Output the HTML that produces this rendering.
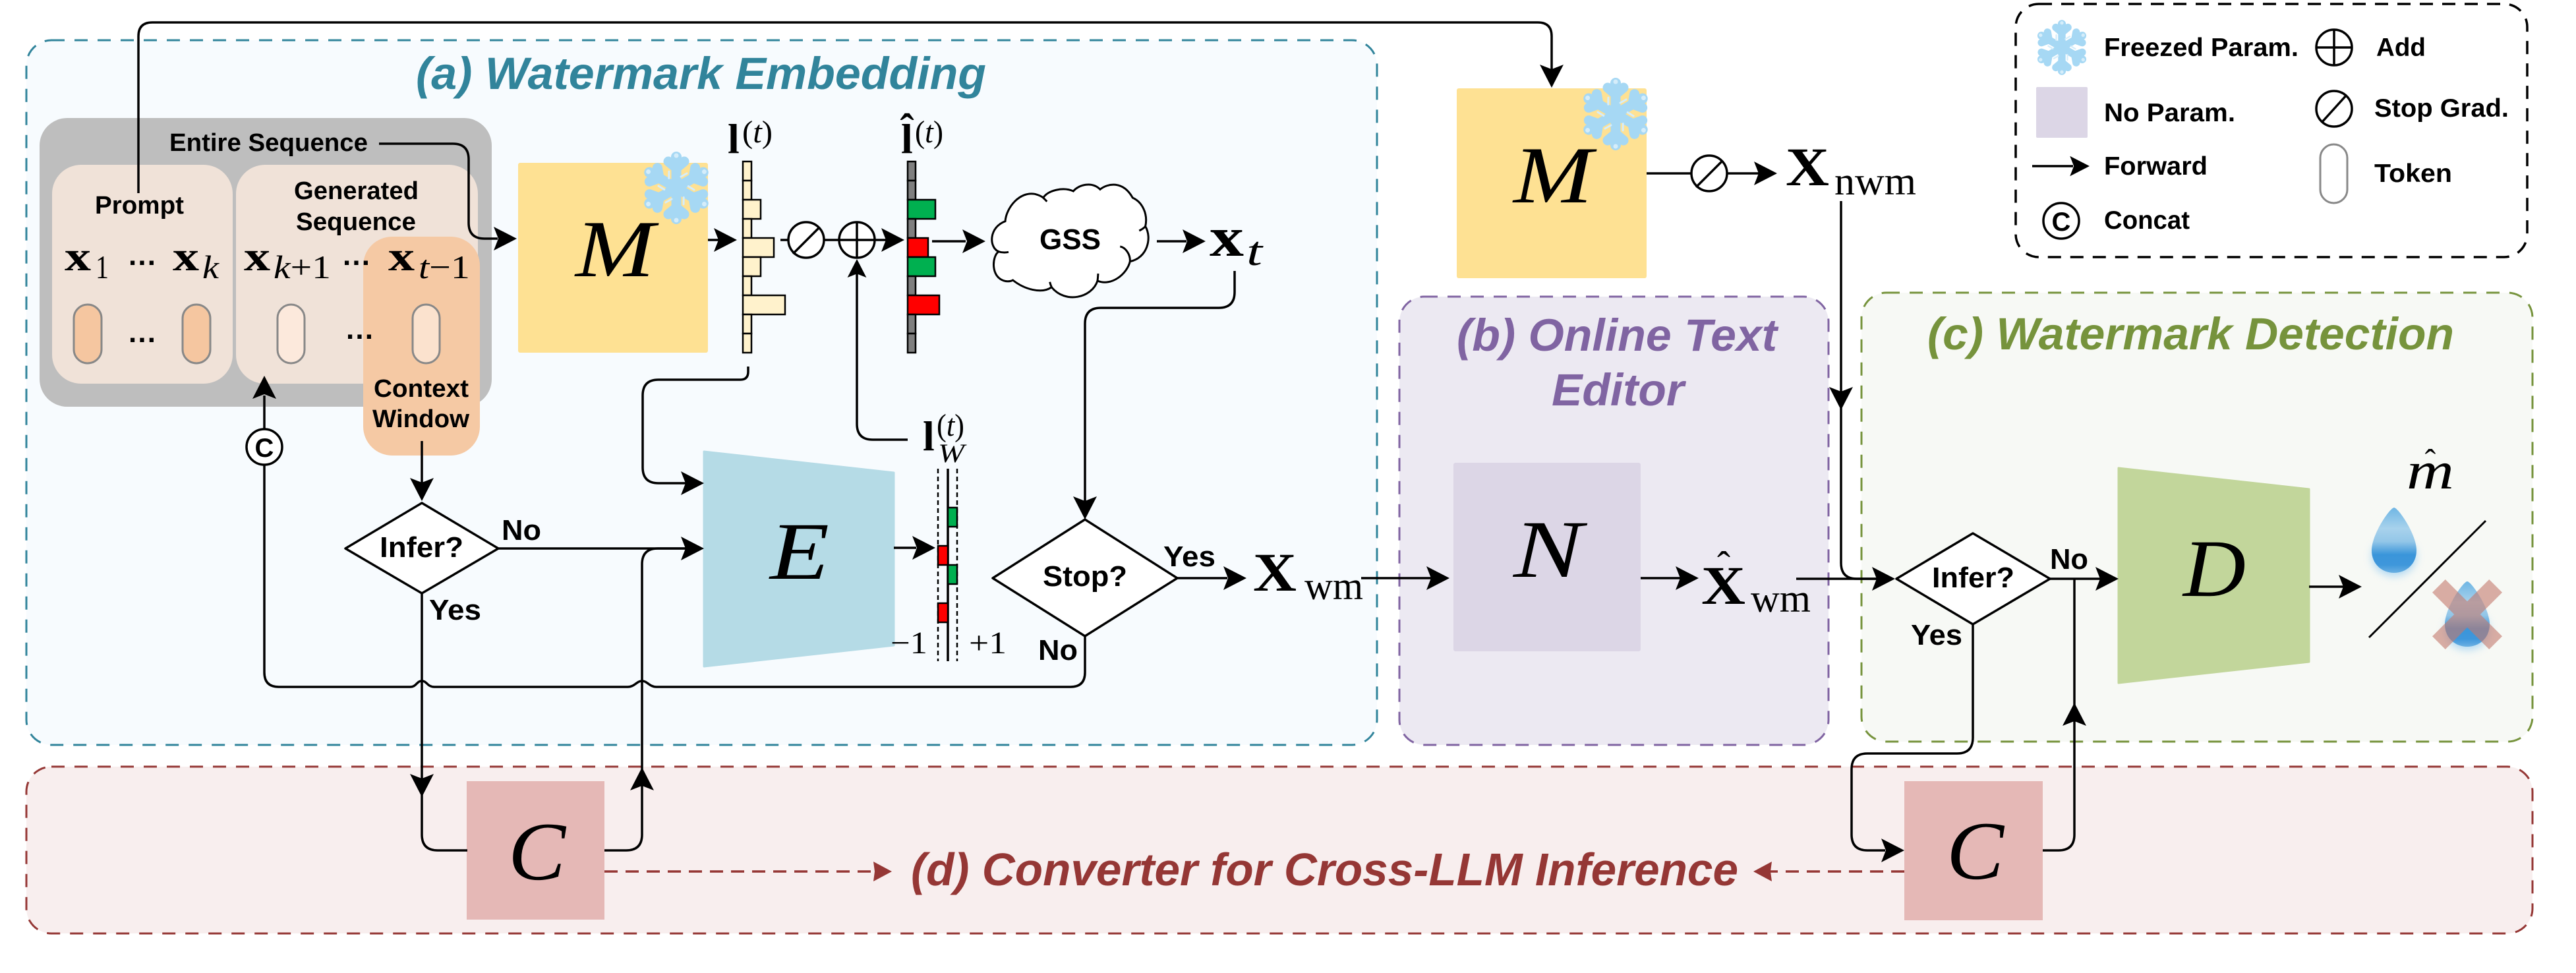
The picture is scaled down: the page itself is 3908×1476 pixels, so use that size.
<!DOCTYPE html>
<html>
<head>
<meta charset="utf-8">
<title>Watermark diagram</title>
<style>
html,body{margin:0;padding:0;background:#fff;width:3908px;height:1476px;overflow:hidden}
svg{display:block}
.s{font-family:"Liberation Sans",sans-serif;font-weight:bold;fill:#000}
.t{font-family:"Liberation Sans",sans-serif;font-weight:bold;font-style:italic}
.m{font-family:"Liberation Serif",serif;fill:#000}
.b{font-weight:bold}
.i{font-style:italic}
.l{fill:none;stroke:#000;stroke-width:3.5}
.c{fill:#fff;stroke:#000;stroke-width:3.5}
</style>
</head>
<body>
<svg width="3908" height="1476" viewBox="0 0 3908 1476" xmlns="http://www.w3.org/2000/svg">
<defs>
<path id="a" d="M0 0L-35 -18L-28 0L-35 18Z" fill="#000"/>
<path id="ad" d="M0 0L-28 -15L-26 0L-28 15Z" fill="#953735"/>
<g id="arm">
<path d="M0 0V-36" stroke="#A6D8F4" stroke-width="15" fill="none"/>
<path d="M0 -30L-12 -40M0 -30L12 -40" stroke="#A6D8F4" stroke-width="15" stroke-linecap="round" fill="none"/>
<circle cx="0" cy="-47" r="8" fill="#A6D8F4"/>
<circle cx="0" cy="-49" r="3.5" fill="#D5EDFA"/>
<path d="M7 -17L16 -22" stroke="#D5EDFA" stroke-width="3" stroke-linecap="round" fill="none"/>
</g>
<g id="snow">
<use href="#arm"/>
<use href="#arm" transform="rotate(60)"/>
<use href="#arm" transform="rotate(120)"/>
<use href="#arm" transform="rotate(180)"/>
<use href="#arm" transform="rotate(240)"/>
<use href="#arm" transform="rotate(300)"/>
</g>
<linearGradient id="dg" x1="0" y1="0" x2="0" y2="1">
<stop offset="0" stop-color="#6FB6E4"/>
<stop offset=".32" stop-color="#A8D2EC"/>
<stop offset=".52" stop-color="#93C6E8"/>
<stop offset=".72" stop-color="#3A95DA"/>
<stop offset=".88" stop-color="#3F97DB"/>
<stop offset="1" stop-color="#6BB0E2"/>
</linearGradient>
<filter id="bl" x="-50%" y="-50%" width="200%" height="200%"><feGaussianBlur stdDeviation="6"/></filter>
<g id="drop">
<ellipse cx="0" cy="74" rx="34" ry="30" fill="#7CC0F0" opacity=".55" filter="url(#bl)"/>
<path d="M0 0C6 0 34 40 34 65C34 86 18 99 0 99C-18 99 -34 86 -34 65C-34 40 -6 0 0 0Z" fill="url(#dg)"/>
</g>
</defs>

<!-- panels -->
<rect x="40" y="61" width="2049" height="1069" rx="38" fill="#F7FBFE" stroke="#31849B" stroke-width="3" stroke-dasharray="20 15"/>
<rect x="2123" y="450" width="651" height="680" rx="38" fill="#ECE9F2" stroke="#8064A2" stroke-width="3" stroke-dasharray="20 15"/>
<rect x="2824" y="444" width="1018" height="681" rx="38" fill="#F7F9F5" stroke="#76933C" stroke-width="3" stroke-dasharray="20 15"/>
<rect x="40" y="1163" width="3802" height="253" rx="38" fill="#F8EEEE" stroke="#953735" stroke-width="3" stroke-dasharray="20 15"/>
<rect x="3058" y="6" width="776" height="384" rx="35" fill="#fff" stroke="#000" stroke-width="3.5" stroke-dasharray="20 14"/>

<!-- titles -->
<text class="t" x="631" y="135" font-size="69" fill="#31849B" textLength="865" lengthAdjust="spacingAndGlyphs">(a) Watermark Embedding</text>
<text class="t" x="2210" y="532" font-size="69" fill="#8064A2" textLength="486" lengthAdjust="spacingAndGlyphs">(b) Online Text</text>
<text class="t" x="2354" y="615" font-size="69" fill="#8064A2" textLength="201" lengthAdjust="spacingAndGlyphs">Editor</text>
<text class="t" x="2924" y="530" font-size="69" fill="#76933C" textLength="799" lengthAdjust="spacingAndGlyphs">(c) Watermark Detection</text>
<text class="t" x="1382" y="1343" font-size="70" fill="#953735" textLength="1255" lengthAdjust="spacingAndGlyphs">(d) Converter for Cross-LLM Inference</text>

<!-- sequence block -->
<rect x="60" y="179" width="686" height="438" rx="42" fill="#BEBEBE"/>
<rect x="79" y="250" width="274" height="332" rx="44" fill="#F0E2D8"/>
<rect x="358" y="250" width="367" height="332" rx="44" fill="#F0E2D8"/>
<rect x="551" y="359" width="177" height="332" rx="44" fill="#F5C9A4"/>
<text class="s" x="257" y="229" font-size="38" textLength="301" lengthAdjust="spacingAndGlyphs">Entire Sequence</text>
<text class="s" x="144" y="324" font-size="38" textLength="135" lengthAdjust="spacingAndGlyphs">Prompt</text>
<text class="s" x="446" y="302" font-size="38" textLength="189" lengthAdjust="spacingAndGlyphs">Generated</text>
<text class="s" x="449" y="349" font-size="38" textLength="182" lengthAdjust="spacingAndGlyphs">Sequence</text>
<text class="s" x="567" y="602" font-size="38" textLength="144" lengthAdjust="spacingAndGlyphs">Context</text>
<text class="s" x="565" y="648" font-size="38" textLength="147" lengthAdjust="spacingAndGlyphs">Window</text>

<text class="m b" x="98" y="410" font-size="64" textLength="40" lengthAdjust="spacingAndGlyphs">x</text>
<text class="m" x="145" y="422" font-size="50" textLength="20" lengthAdjust="spacingAndGlyphs">1</text>
<text class="s" x="195" y="402" font-size="44" textLength="41" lengthAdjust="spacing">...</text>
<text class="m b" x="262" y="410" font-size="64" textLength="40" lengthAdjust="spacingAndGlyphs">x</text>
<text class="m i" x="307" y="422" font-size="50" textLength="25" lengthAdjust="spacingAndGlyphs">k</text>
<text class="m b" x="370" y="410" font-size="64" textLength="40" lengthAdjust="spacingAndGlyphs">x</text>
<text class="m" x="415" y="422" font-size="50" textLength="87" lengthAdjust="spacingAndGlyphs"><tspan class="i">k</tspan>+1</text>
<text class="s" x="520" y="402" font-size="44" textLength="41" lengthAdjust="spacing">...</text>
<text class="m b" x="589" y="410" font-size="64" textLength="40" lengthAdjust="spacingAndGlyphs">x</text>
<text class="m" x="635" y="422" font-size="50" textLength="78" lengthAdjust="spacingAndGlyphs"><tspan class="i">t</tspan>−1</text>

<rect x="112" y="462" width="42" height="89" rx="21" fill="#F5C6A0" stroke="#888" stroke-width="3"/>
<rect x="277" y="462" width="42" height="89" rx="21" fill="#F5C6A0" stroke="#888" stroke-width="3"/>
<rect x="421" y="462" width="41" height="89" rx="20.5" fill="#FCE9DC" stroke="#888" stroke-width="3"/>
<rect x="626" y="462" width="41" height="89" rx="20.5" fill="#FBE2CE" stroke="#888" stroke-width="3"/>
<text class="s" x="195" y="519" font-size="44" textLength="41" lengthAdjust="spacing">...</text>
<text class="s" x="525" y="514" font-size="44" textLength="41" lengthAdjust="spacing">...</text>

<!-- big blocks -->
<rect x="786" y="247" width="288" height="288" rx="3" fill="#FEE193"/>
<text class="m i" x="873" y="419" font-size="123" textLength="120" lengthAdjust="spacingAndGlyphs">M</text>
<use href="#snow" transform="translate(1026,285)"/>

<rect x="2210" y="134" width="288" height="288" rx="3" fill="#FEE193"/>
<text class="m i" x="2296" y="307" font-size="123" textLength="120" lengthAdjust="spacingAndGlyphs">M</text>
<use href="#snow" transform="translate(2451,173)"/>

<polygon points="1068,685 1356,717 1356,979 1068,1011" fill="#B5DBE6" stroke="#B5DBE6" stroke-width="3" stroke-linejoin="round"/>
<text class="m i" x="1168" y="878" font-size="124" textLength="90" lengthAdjust="spacingAndGlyphs">E</text>

<rect x="2205" y="702" width="284" height="286" rx="3" fill="#DCD6E6"/>
<text class="m i" x="2296" y="875" font-size="124" textLength="105" lengthAdjust="spacingAndGlyphs">N</text>

<polygon points="3214,710 3503,742 3503,1004 3214,1036" fill="#C2D69B" stroke="#C2D69B" stroke-width="3" stroke-linejoin="round"/>
<text class="m i" x="3312" y="904" font-size="124" textLength="95" lengthAdjust="spacingAndGlyphs">D</text>

<rect x="708" y="1185" width="209" height="210" fill="#E5B8B6"/>
<text class="m i" x="771" y="1334" font-size="126" textLength="87" lengthAdjust="spacingAndGlyphs">C</text>
<rect x="2889" y="1185" width="210" height="211" fill="#E5B8B6"/>
<text class="m i" x="2953" y="1333" font-size="126" textLength="87" lengthAdjust="spacingAndGlyphs">C</text>

<!-- connectors -->
<path class="l" d="M210 293V55Q210 34 231 34H2333Q2354 34 2354 55V105"/>
<use href="#a" transform="translate(2354,133) rotate(90)"/>
<path class="l" d="M575 218H687Q711 218 711 242V338Q711 362 735 362H755"/>
<use href="#a" transform="translate(784,362)"/>

<path class="l" d="M640 669V735"/>
<use href="#a" transform="translate(640,760) rotate(90)"/>

<path class="l" d="M1135 556V564Q1135 576 1123 576H999Q975 576 975 600V709Q975 733 999 733H1040"/>
<use href="#a" transform="translate(1068,733)"/>

<path class="l" d="M756 832H1040"/>
<use href="#a" transform="translate(1068,832)"/>

<path class="l" d="M1074 364H1090"/>
<use href="#a" transform="translate(1118,364)"/>

<path class="l" d="M1184 364H1345"/>
<use href="#a" transform="translate(1372,364)"/>
<path class="l" d="M1414 366H1465"/>
<use href="#a" transform="translate(1495,366)"/>
<path class="l" d="M1755 366H1800"/>
<use href="#a" transform="translate(1829,366)"/>

<path class="l" d="M1377 667H1324Q1300 667 1300 643V415"/>
<use href="#a" transform="translate(1300,393) rotate(-90) scale(.8)"/>

<path class="l" d="M1873 411V443Q1873 467 1849 467H1670Q1646 467 1646 491V760"/>
<use href="#a" transform="translate(1646,788) rotate(90)"/>

<path class="l" d="M1646 965V1020Q1646 1042 1624 1042H996C985 1042 982 1033 974 1033C966 1033 963 1042 952 1042H659C648 1042 648 1033 640 1033C632 1033 632 1042 622 1042H423Q401 1042 401 1020V600"/>
<use href="#a" transform="translate(401,570) rotate(-90)"/>

<path class="l" d="M640 899V1266Q640 1290 664 1290H709"/>
<use href="#a" transform="translate(640,1209) rotate(90)"/>
<path class="l" d="M917 1290H950Q974 1290 974 1266V856Q974 832 998 832H1040"/>
<use href="#a" transform="translate(974,1164) rotate(-90)"/>

<path class="l" d="M1356 831H1390"/>
<use href="#a" transform="translate(1419,831)"/>
<path class="l" d="M1786 877H1862"/>
<use href="#a" transform="translate(1891,877)"/>
<path class="l" d="M2065 877H2172"/>
<use href="#a" transform="translate(2199,877)"/>
<path class="l" d="M2489 877H2550"/>
<use href="#a" transform="translate(2577,877)"/>

<path class="l" d="M2498 263H2670"/>
<use href="#a" transform="translate(2696,263)"/>
<path class="l" d="M2793 305V854Q2793 878 2817 878H2848"/>
<use href="#a" transform="translate(2793,622) rotate(90)"/>
<path class="l" d="M2725 878H2848"/>
<use href="#a" transform="translate(2875,878)"/>

<path class="l" d="M3110 878H3186"/>
<use href="#a" transform="translate(3214,878)"/>
<path class="l" d="M3099 1290H3123Q3147 1290 3147 1266V878"/>
<use href="#a" transform="translate(3147,1066) rotate(-90)"/>
<path class="l" d="M2993 947V1119Q2993 1143 2969 1143H2833Q2809 1143 2809 1167V1266Q2809 1290 2833 1290H2860"/>
<use href="#a" transform="translate(2889,1290)"/>
<path class="l" d="M3503 890H3555"/>
<use href="#a" transform="translate(3583,890)"/>

<!-- dashed converter arrows -->
<path d="M917 1322H1330" fill="none" stroke="#953735" stroke-width="3.5" stroke-dasharray="20 12"/>
<use href="#ad" transform="translate(1353,1322)"/>
<path d="M2889 1322H2685" fill="none" stroke="#953735" stroke-width="3.5" stroke-dasharray="20 12"/>
<use href="#ad" transform="translate(2660,1322) rotate(180)"/>

<!-- bars -->
<g fill="#FFF2CC" stroke="#000" stroke-width="2.5">
<rect x="1127" y="245" width="13" height="29"/><rect x="1127" y="274" width="13" height="29"/>
<rect x="1127" y="303" width="27" height="29"/><rect x="1127" y="332" width="13" height="29"/>
<rect x="1127" y="361" width="47" height="29"/><rect x="1127" y="390" width="27" height="29"/>
<rect x="1127" y="419" width="13" height="29"/><rect x="1127" y="448" width="64" height="29"/>
<rect x="1127" y="477" width="13" height="29"/><rect x="1127" y="506" width="13" height="29"/>
</g>
<g fill="#7F7F7F" stroke="#000" stroke-width="2.5">
<rect x="1377" y="245" width="12" height="29"/><rect x="1377" y="274" width="12" height="29"/>
<rect x="1377" y="303" width="42" height="29" fill="#00B050"/><rect x="1377" y="332" width="12" height="29"/>
<rect x="1377" y="361" width="31" height="29" fill="#FF0000"/><rect x="1377" y="390" width="42" height="29" fill="#00B050"/>
<rect x="1377" y="419" width="12" height="29"/><rect x="1377" y="448" width="48" height="29" fill="#FF0000"/>
<rect x="1377" y="477" width="12" height="29"/><rect x="1377" y="506" width="12" height="29"/>
</g>

<!-- l_W bar -->
<path d="M1423 711V1003M1452 711V1003" fill="none" stroke="#000" stroke-width="2.5" stroke-dasharray="7 5"/>
<path class="l" d="M1438 711V1003"/>
<g stroke="#000" stroke-width="2.5">
<rect x="1438" y="770" width="14" height="29" fill="#00B050"/>
<rect x="1423" y="828" width="15" height="29" fill="#FF0000"/>
<rect x="1438" y="857" width="14" height="29" fill="#00B050"/>
<rect x="1423" y="915" width="15" height="29" fill="#FF0000"/>
</g>

<!-- math labels -->
<text class="m b" x="1104" y="232" font-size="64">l</text>
<text class="m" x="1126" y="216" font-size="48" textLength="46" lengthAdjust="spacingAndGlyphs">(<tspan class="i">t</tspan>)</text>
<text class="m b" x="1367" y="232" font-size="64">l</text>
<text class="m b" x="1376" y="217" font-size="64" text-anchor="middle">ˆ</text>
<text class="m" x="1388" y="216" font-size="48" textLength="43" lengthAdjust="spacingAndGlyphs">(<tspan class="i">t</tspan>)</text>
<text class="m b" x="1400" y="683" font-size="64">l</text>
<text class="m" x="1421" y="661" font-size="48" textLength="42" lengthAdjust="spacingAndGlyphs">(<tspan class="i">t</tspan>)</text>
<text class="m i" x="1423" y="701" font-size="40" textLength="40" lengthAdjust="spacingAndGlyphs">W</text>
<text class="m" x="1351" y="991" font-size="48" textLength="56" lengthAdjust="spacingAndGlyphs">−1</text>
<text class="m" x="1470" y="991" font-size="48" textLength="57" lengthAdjust="spacingAndGlyphs">+1</text>
<text class="m b" x="1835" y="388" font-size="85" textLength="52" lengthAdjust="spacingAndGlyphs">x</text>
<text class="m i" x="1891" y="402" font-size="62" textLength="24" lengthAdjust="spacingAndGlyphs">t</text>
<text class="m b" x="1901" y="896" font-size="83" textLength="66" lengthAdjust="spacingAndGlyphs">X</text>
<text class="m" x="1979" y="909" font-size="60" textLength="89" lengthAdjust="spacingAndGlyphs">wm</text>
<text class="m b" x="2581" y="916" font-size="83" textLength="67" lengthAdjust="spacingAndGlyphs">X</text>
<text class="m" x="2615" y="878" font-size="60" text-anchor="middle">ˆ</text>
<text class="m" x="2656" y="928" font-size="60" textLength="91" lengthAdjust="spacingAndGlyphs">wm</text>
<text class="m b" x="2709" y="281" font-size="83" textLength="66" lengthAdjust="spacingAndGlyphs">X</text>
<text class="m" x="2783" y="295" font-size="60" textLength="124" lengthAdjust="spacingAndGlyphs">nwm</text>
<text class="m i" x="3651" y="741" font-size="80" textLength="72" lengthAdjust="spacingAndGlyphs">m</text>
<text class="m" x="3687" y="716" font-size="50" text-anchor="middle">ˆ</text>

<!-- operators -->
<circle class="c" cx="1223" cy="364" r="27"/>
<path class="l" d="M1203 385L1243 345"/>
<circle class="c" cx="1300" cy="364" r="27"/>
<path class="l" d="M1273 364H1327M1300 337V391"/>
<circle class="c" cx="2593" cy="263" r="27"/>
<path class="l" d="M2573 284L2613 244"/>
<circle class="c" cx="401" cy="678" r="27"/>
<text class="s" x="401" y="693" font-size="40" text-anchor="middle">C</text>

<!-- diamonds -->
<polygon class="c" stroke-linejoin="round" points="640,763 756,832 640,900 524,832"/>
<text class="s" x="576" y="845" font-size="44" textLength="127" lengthAdjust="spacingAndGlyphs">Infer?</text>
<text class="s" x="761" y="819" font-size="44" textLength="60" lengthAdjust="spacingAndGlyphs">No</text>
<text class="s" x="651" y="940" font-size="44" textLength="79" lengthAdjust="spacingAndGlyphs">Yes</text>

<polygon class="c" stroke-linejoin="round" points="1646,788 1786,877 1646,965 1506,877"/>
<text class="s" x="1582" y="889" font-size="44" textLength="128" lengthAdjust="spacingAndGlyphs">Stop?</text>
<text class="s" x="1765" y="859" font-size="44" textLength="79" lengthAdjust="spacingAndGlyphs">Yes</text>
<text class="s" x="1575" y="1001" font-size="44" textLength="60" lengthAdjust="spacingAndGlyphs">No</text>

<polygon class="c" stroke-linejoin="round" points="2993,809 3110,878 2993,947 2877,878"/>
<text class="s" x="2931" y="891" font-size="44" textLength="125" lengthAdjust="spacingAndGlyphs">Infer?</text>
<text class="s" x="3110" y="863" font-size="44" textLength="58" lengthAdjust="spacingAndGlyphs">No</text>
<text class="s" x="2899" y="978" font-size="44" textLength="78" lengthAdjust="spacingAndGlyphs">Yes</text>

<!-- cloud -->
<g transform="translate(1490,265) scale(.3333)">
<path d="M105 212C110 150 170 75 240 88C255 92 268 96 278 105C300 70 370 55 415 75C440 45 500 30 537 67C570 40 640 25 685 105C730 125 755 180 743 235C775 290 750 380 673 395C660 450 590 510 525 483C500 560 380 590 316 512C270 545 190 520 140 480C110 495 60 480 53 420C50 390 60 360 75 350C30 330 30 240 105 212Z" fill="#fff" stroke="#000" stroke-width="9"/>
<path d="M278 105L295 122M743 235C735 245 725 250 715 255M673 395C675 360 650 330 628 327M525 483C527 470 527 460 528 450M316 512C312 503 310 497 308 488M75 350C90 355 105 355 120 352" fill="none" stroke="#000" stroke-width="9"/>
</g>
<text class="s" x="1577" y="378" font-size="44" textLength="93" lengthAdjust="spacingAndGlyphs">GSS</text>

<!-- output drops -->
<use href="#drop" transform="translate(3632,770)"/>
<use href="#drop" transform="translate(3743,882)"/>
<g transform="translate(3743,932)" fill="#C47A6E" opacity=".6">
<path d="M-14 -61H14V-14H61V14H14V61H-14V14H-61V-14H-14Z" transform="rotate(45)"/>
</g>
<path d="M3594 967L3771 790" fill="none" stroke="#000" stroke-width="3"/>

<!-- legend -->
<use href="#snow" transform="translate(3128,72) scale(.76)"/>
<text class="s" x="3192" y="85" font-size="39" textLength="295" lengthAdjust="spacingAndGlyphs">Freezed Param.</text>
<circle class="c" cx="3541" cy="72" r="27"/>
<path class="l" d="M3514 72H3568M3541 45V99"/>
<text class="s" x="3605" y="85" font-size="39" textLength="75" lengthAdjust="spacingAndGlyphs">Add</text>
<rect x="3089" y="132" width="78" height="77" rx="2" fill="#DCD6E6"/>
<text class="s" x="3192" y="184" font-size="39" textLength="199" lengthAdjust="spacingAndGlyphs">No Param.</text>
<circle class="c" cx="3541" cy="165" r="27"/>
<path class="l" d="M3522 186L3560 144"/>
<text class="s" x="3602" y="177" font-size="39" textLength="204" lengthAdjust="spacingAndGlyphs">Stop Grad.</text>
<path class="l" d="M3083 252H3145"/>
<use href="#a" transform="translate(3170,252) scale(.85)"/>
<text class="s" x="3192" y="265" font-size="39" textLength="157" lengthAdjust="spacingAndGlyphs">Forward</text>
<rect x="3520" y="219" width="41" height="89" rx="20.5" fill="#fff" stroke="#888" stroke-width="3"/>
<text class="s" x="3602" y="276" font-size="39" textLength="118" lengthAdjust="spacingAndGlyphs">Token</text>
<circle class="c" cx="3127" cy="335" r="27"/>
<text class="s" x="3127" y="350" font-size="40" text-anchor="middle">C</text>
<text class="s" x="3192" y="347" font-size="39" textLength="130" lengthAdjust="spacingAndGlyphs">Concat</text>
</svg>
</body>
</html>
